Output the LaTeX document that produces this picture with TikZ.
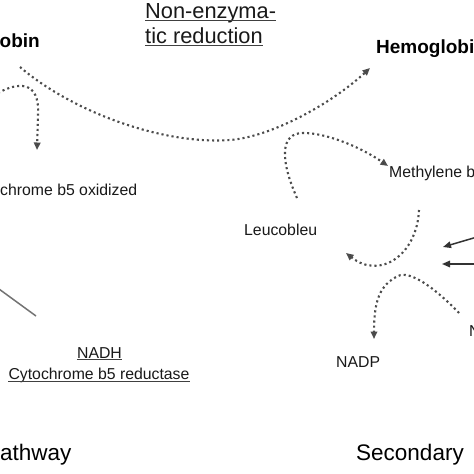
\documentclass[tikz,border=0pt]{standalone}
\usepackage{fontspec}
\setmainfont{Liberation Sans}
\usetikzlibrary{arrows.meta}
\begin{document}
\begin{tikzpicture}[x=1pt,y=-1pt,
  lbl/.style={inner sep=0pt, anchor=base west, text=black!90, font=\fontsize{15.8}{18}\selectfont},
  boldlbl/.style={lbl, text=black, font=\fontsize{19}{21}\selectfont\bfseries},
  midlbl/.style={lbl, text=black!90, font=\fontsize{21.8}{24}\selectfont},
  biglbl/.style={lbl, text=black, font=\fontsize{22.5}{26}\selectfont},
  dotline/.style={line width=2.1pt, dash pattern=on 2.1pt off 3pt, draw=black!70, -{Triangle[length=7.5pt,width=6.5pt,fill=black!85]}},
  solidarrow/.style={line width=1.5pt, draw=black!80, -{Triangle[length=8pt,width=6.5pt]}},
  uline/.style={line width=0.9pt, draw=black!75}
]
\fill[white] (0,0) rectangle (474,474);
\useasboundingbox (0,0) rectangle (474,474);

% labels
\node[boldlbl] (hbl) at (-0.5,47) {obin};
\node[boldlbl] (hbr) at (376,53) {Hemoglobi};
\node[midlbl] (ne1) at (145,18) {Non-enzyma-};
\node[midlbl] (ne2) at (145,43) {tic reduction};
\draw[uline] ([yshift=-2pt]ne1.base west) -- ([yshift=-2pt]ne1.base east);
\draw[uline] ([yshift=-2pt]ne2.base west) -- ([yshift=-2pt]ne2.base east);
\node[lbl] (cyt) at (0,195) {chrome b5 oxidized};
\node[lbl] (mb) at (389,177) {Methylene b};
\node[lbl] (leu) at (244,235) {Leucobleu};
\node[lbl] (nadp) at (336,367) {NADP};
\node[lbl, anchor=base] (nadh) at (99.5,358) {NADH};
\node[lbl, anchor=base] (red) at (99,379) {Cytochrome b5 reductase};
\draw[uline] ([yshift=-1.8pt]nadh.base west) -- ([yshift=-1.8pt]nadh.base east);
\draw[uline] ([yshift=-2pt]red.base west) -- ([yshift=-2pt]red.base east);
\node[biglbl] (pw) at (0,460) {athway};
\node[biglbl] (sec) at (356,460) {Secondary};
\node[lbl] (nn) at (469,336) {N};

% coordinates
\coordinate (a1) at (20,67);
\coordinate (a2) at (370,68);
\coordinate (b1) at (-2,93);
\coordinate (b2) at (37,150);
\coordinate (c1) at (297,198);
\coordinate (c2) at (388,166);
\coordinate (d1) at (419,210);
\coordinate (d2) at (346,253);
\coordinate (e1) at (459,313);
\coordinate (e2) at (374,339);
\coordinate (f1) at (477,237);
\coordinate (f2) at (443,247);
\coordinate (g1) at (477,264);
\coordinate (g2) at (442,264);
\coordinate (h1) at (-1,289);
\coordinate (h2) at (36,316);

% connectors
\draw[dotline] (a1) .. controls (70,110) and (160,145) .. (230,140)
   .. controls (270,137) and (330,105) .. (a2);
\draw[dotline] (b1) .. controls (18,82) and (40,80) .. (38,115) -- (b2);
\draw[dotline] (c1) .. controls (280,160) and (280,133) .. (303,133)
   .. controls (330,133) and (365,150) .. (c2);
\draw[dotline] (d1) .. controls (417,255) and (380,280) .. (d2);
\draw[dotline] (e1) .. controls (435,288) and (410,270) .. (398,276)
   .. controls (380,285) and (374,300) .. (e2);
\draw[solidarrow] (f1) -- (f2);
\draw[solidarrow] (g1) -- (g2);
\draw[line width=1.5pt, draw=black!55] (h1) -- (h2);
\end{tikzpicture}
\end{document}
